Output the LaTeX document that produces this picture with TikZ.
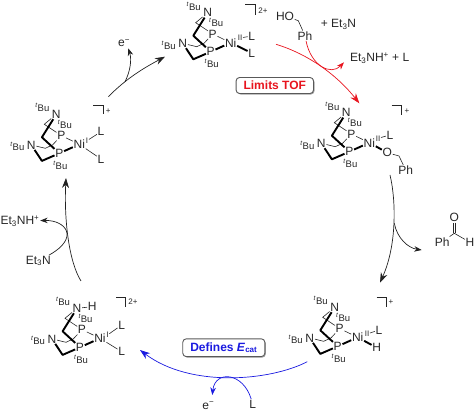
\documentclass[tikz,border=0pt]{standalone}
\usepackage{fontspec}
\setmainfont{Liberation Sans}
\usepackage{tikz}
\usetikzlibrary{arrows.meta,shadows}
\definecolor{limitred}{HTML}{E8141E}
\definecolor{ecatblue}{HTML}{1A1AE0}
\definecolor{arrowgray}{HTML}{222222}

\begin{document}
\begin{tikzpicture}[
    x=1pt, y=-1pt,
    every node/.style={font=\fontsize{12}{14}\selectfont, inner sep=0.6pt, text=black!85},
    tbu/.style={font=\fontsize{9.5}{10}\selectfont, inner sep=0pt},
    ox/.style={font=\fontsize{8}{9}\selectfont},
    charge/.style={font=\fontsize{8}{9}\selectfont},
    bond/.style={line width=0.6pt, color=black!85},
    boldbond/.style={line width=1.9pt, color=black},
    bracket/.style={line width=0.7pt, color=black!85},
    cycle/.style={-{Stealth[length=10pt, width=7pt]}, line width=0.7pt, color=arrowgray},
    branch/.style={-{Stealth[length=7.5pt, width=5.5pt]}, line width=0.7pt, color=arrowgray},
    callout/.style={draw=black!65, fill=white, rounded corners=3.5pt, line width=0.9pt, inner xsep=7.5pt, inner ysep=3.6pt,
        drop shadow={shadow xshift=1pt, shadow yshift=-1pt, fill=black!45, opacity=0.8},
        font=\fontsize{12}{14}\selectfont\bfseries},
    ligand/.pic={
        \node (-ni) at (0,0) {Ni};
        \node (-na) at (-23,-30) {N};
        \node (-pa) at (-18,-8.7) {P};
        \node (-nb) at (-48,0.6) {N};
        \node (-pb) at (-20,9) {P};
        \node[tbu] (-ta) at (-37,-36.5) {\textsuperscript{\itshape t}Bu};
        \node[tbu] (-tb) at (-14.5,-20) {\textsuperscript{\itshape t}Bu};
        \node[tbu] (-tc) at (-62,2.3) {\textsuperscript{\itshape t}Bu};
        \node[tbu] (-td) at (-19,21) {\textsuperscript{\itshape t}Bu};
        \coordinate (-a) at (-35,-20);
        \coordinate (-b) at (-37.4,-7);
        \coordinate (-c) at (-37.4,16.6);
        \coordinate (-d) at (-34,4);
        \coordinate (-e) at (-26.7,0.6);
        \draw[bond] (-na) -- (-a) -- (-pa);
        \draw[bond] (-nb) -- (-d) -- (-e) -- (-pa);
        \draw[bond] (-pa) -- (-ni);
        \draw[boldbond, line join=round] (-na) -- (-b) -- (-pb);
        \draw[boldbond, line join=round] (-nb) -- (-c) -- (-pb);
        \draw[boldbond] (-pb) -- (-ni);
    }
]
    \useasboundingbox (0,0) rectangle (474,411);

    % Top complex
    \pic (top) at (230.7,42.7) {ligand};
    \node[ox] (topox) at (240,38) {II};
    \node (topla) at (251.7,36) {L};
    \node (toplb) at (251.7,53) {L};
    \draw[bond] (topox) -- (topla);
    \draw[boldbond] (top-ni) -- (toplb);
    \draw[bracket] (245,4) -| (255,15);
    \node[charge] (topq) at (263,10.7) {2+};

    % Right complex with alkoxide
    \pic (alk) at (369.3,142.7) {ligand};
    \node[ox] (alkox) at (378,138.3) {II};
    \node (alkl) at (390,135) {L};
    \node (alko) at (387.3,152.7) {O};
    \coordinate (alkch) at (399,156);
    \node (alkph) at (405.7,170) {Ph};
    \draw[bond] (alkox) -- (alkl);
    \draw[boldbond] (alk-ni) -- (alko);
    \draw[bond] (alko) -- (alkch) -- (alkph);
    \draw[bracket] (391.7,105.5) -| (401.7,115);
    \node[charge] (alkq) at (407,110.7) {+};

    % Hydride complex
    \pic (hyd) at (357.7,337.3) {ligand};
    \node[ox] (hydox) at (367,334) {II};
    \node (hydl) at (379,330) {L};
    \node (hydh) at (376.7,347.7) {H};
    \draw[bond] (hydox) -- (hydl);
    \draw[boldbond] (hyd-ni) -- (hydh);
    \draw[bracket] (376.7,297) -| (386.7,306.7);
    \node[charge] (hydq) at (391,301.7) {+};

    % Protonated Ni(I) complex
    \pic (pro) at (100,338.3) {ligand};
    \node (proh) at (92.3,306.7) {H};
    \draw[bond] (pro-na) -- (proh);
    \node[ox] (proox) at (107.5,335) {I};
    \node (prola) at (121.7,325) {L};
    \node (prolb) at (121.7,351.7) {L};
    \draw[bond] (proox) -- (prola);
    \draw[bond] (pro-ni) -- (prolb);
    \draw[bracket] (116,297) -| (125,306.7);
    \node[charge] (proq) at (133,302) {2+};

    % Left complex
    \pic (lft) at (79.3,144.3) {ligand};
    \node[ox] (lftox) at (87,140.7) {I};
    \node (lftla) at (101,131.7) {L};
    \node (lftlb) at (101,159) {L};
    \draw[bond] (lftox) -- (lftla);
    \draw[bond] (lft-ni) -- (lftlb);
    \draw[bracket] (93.3,105) -| (103.3,114);
    \node[charge] (lftq) at (108.3,110.7) {+};

    % Small molecules
    \node (ho) at (285,16) {HO};
    \coordinate (hoch) at (298.3,20.7);
    \node (hoph) at (305,35.7) {Ph};
    \draw[bond] (ho) -- (hoch) -- (hoph);
    \node (addbase) at (338.5,24.5) {+ Et\textsubscript{3}N};
    \node[anchor=west] (relsalt) at (349.3,58) {Et\textsubscript{3}NH\textsuperscript{+} + L};
    \node (ald) at (454.3,217.7) {O};
    \coordinate (aldc) at (454.3,233.3);
    \node (aldph) at (442.3,241.7) {Ph};
    \node (aldh) at (470,242.3) {H};
    \draw[bond, double, double distance=1.2pt] (ald) -- (aldc);
    \draw[bond] (aldph) -- (aldc) -- (aldh);
    \node (basel) at (38.3,261) {Et\textsubscript{3}N};
    \node (saltl) at (20,221) {Et\textsubscript{3}NH\textsuperscript{+}};
    \node (elta) at (124,43) {e\textsuperscript{−}};
    \node (eltb) at (208.3,405.7) {e\textsuperscript{−}};
    \node (lig) at (252.7,404) {L};

    % Callouts
    \node[callout, text=limitred] (limits) at (274.8,85.5) {Limits TOF};
    \node[callout, text=ecatblue] (defines) at (223.8,347.7) {Defines \textit{E}\textsubscript{cat}};

    % Cycle arrows
    \coordinate (tops) at (108.3,96.7);
    \coordinate (tope) at (165,56.7);
    \coordinate (topm) at (125,81.7);
    \coordinate (topt) at (128.3,48.3);
    \draw[cycle] (tops) .. controls (125,80) and (140,70) .. (tope);
    \draw[branch] (topm) .. controls (130,72) and (132,60) .. (topt);

    \coordinate (reds) at (276,44.3);
    \coordinate (rede) at (359.3,103.3);
    \coordinate (redt) at (344,62.3);
    \draw[cycle, color=limitred] (reds) .. controls (308,54) and (337,75) .. (rede);
    \draw[branch, color=limitred] (hoph) .. controls (311,66) and (331,76) .. (redt);

    \coordinate (rgts) at (390,175);
    \coordinate (rgte) at (380,282.7);
    \coordinate (rgtm) at (394.3,223.3);
    \coordinate (rgtt) at (421.7,250);
    \draw[cycle] (rgts) .. controls (396,200) and (397,245) .. (rgte);
    \draw[branch] (rgtm) .. controls (397,238) and (408,248) .. (rgtt);

    \coordinate (blus) at (307.3,361.7);
    \coordinate (blue) at (140,350);
    \coordinate (blut) at (212.3,395);
    \draw[cycle, color=ecatblue] (blus) .. controls (270,381) and (190,388) .. (blue);
    \draw[branch, color=ecatblue] (lig) .. controls (243,372) and (215,370) .. (blut);

    \coordinate (lfts) at (81,281);
    \coordinate (lfte) at (66,178);
    \draw[cycle] (lfts) .. controls (69,262) and (64,220) .. (lfte);
    \draw[branch] (basel) .. controls (80,238) and (66,220) .. (saltl);
\end{tikzpicture}
\end{document}
